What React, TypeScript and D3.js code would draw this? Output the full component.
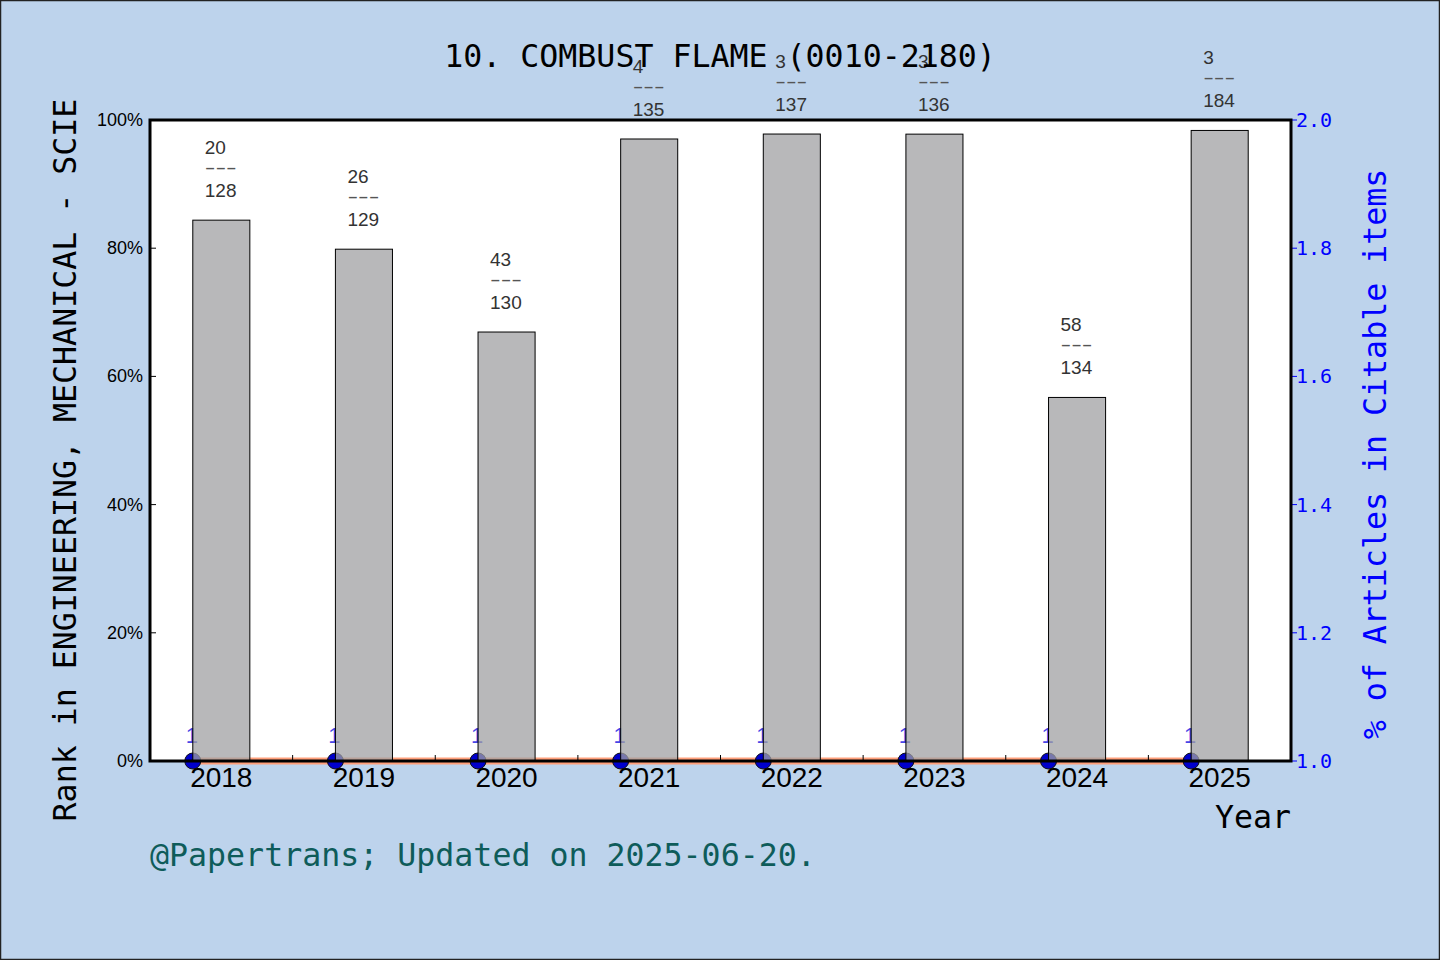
import { useEffect, useRef } from "react";
import * as d3 from "d3";

// chart data
const years = ["2018", "2019", "2020", "2021", "2022", "2023", "2024", "2025"];
const ranks = [20, 26, 43, 4, 3, 3, 58, 3];
const totals = [128, 129, 130, 135, 137, 136, 134, 184];
const citable = [1, 1, 1, 1, 1, 1, 1, 1];
const leftTicks = [0, 0.2, 0.4, 0.6, 0.8, 1.0];
const rightTicks = [1.0, 1.2, 1.4, 1.6, 1.8, 2.0];

const W = 1440;
const H = 960;
const M = { left: 150, right: 1291, top: 120, bottom: 761 };
const MONO = "'DejaVu Sans Mono', monospace";
const SANS = "'Liberation Sans', Arial, sans-serif";
const BIG = 31.6;

export default function App() {
  const svgRef = useRef<SVGSVGElement>(null);

  useEffect(() => {
    document.body.style.margin = "0";
    const svg = svgRef.current;
    if (!svg) return;
    const sel = d3.select(svg);
    sel.selectAll("*").remove();

    const x = d3.scaleBand<string>().domain(years).range([M.left, M.right]).padding(0);
    const step = x.step();
    const yL = d3.scaleLinear().domain([0, 1]).range([M.bottom, M.top]);
    const yR = d3.scaleLinear().domain([1, 2]).range([M.bottom, M.top]);

    const rows = years.map((yr, i) => ({
      year: yr,
      rank: ranks[i],
      total: totals[i],
      pct: 1 - ranks[i] / totals[i],
      cit: citable[i],
    }));
    type Row = (typeof rows)[number];
    const px = (d: Row) => (x(d.year) ?? 0) + step * 0.3;

    // background
    sel.append("rect").attr("x", 0.5).attr("y", 0.5).attr("width", W - 1).attr("height", H - 1)
      .attr("fill", "#bdd3ec").attr("stroke", "#222").attr("stroke-width", 1.5);
    sel.append("rect").attr("x", M.left).attr("y", M.top)
      .attr("width", M.right - M.left).attr("height", M.bottom - M.top).attr("fill", "#fff");

    // citable line + markers (under the bars)
    const line = d3.line<Row>().x(px).y((d) => yR(d.cit));
    sel.append("path").datum(rows).attr("d", line).attr("fill", "none")
      .attr("stroke", "#ff9f7a").attr("stroke-width", 7);
    sel.selectAll("circle.pt").data(rows).join("circle").attr("class", "pt")
      .attr("cx", px).attr("cy", (d) => yR(d.cit)).attr("r", 8)
      .attr("fill", "#0000cc").attr("stroke", "#111").attr("stroke-width", 1);
    sel.selectAll("text.cit").data(rows).join("text").attr("class", "cit")
      .attr("x", (d) => px(d) - 1).attr("y", (d) => yR(d.cit) - 18).attr("text-anchor", "middle")
      .attr("font-family", SANS).attr("font-size", 22).attr("font-weight", 300).attr("fill", "#4646e6")
      .text((d) => String(d.cit));

    // bars
    sel.selectAll("rect.bar").data(rows).join("rect").attr("class", "bar")
      .attr("x", px).attr("y", (d) => yL(d.pct)).attr("width", step * 0.4)
      .attr("height", (d) => M.bottom - yL(d.pct))
      .attr("fill", "#a0a0a3").attr("fill-opacity", 0.75)
      .attr("stroke", "#000").attr("stroke-width", 1);

    // rank labels
    const lx = (d: Row) => px(d) + 12;
    sel.selectAll("text.rk").data(rows).join("text").attr("class", "rk")
      .attr("x", lx).attr("y", (d) => yL(d.pct) - 66)
      .attr("font-family", SANS).attr("font-size", 19).attr("fill", "#333").text((d) => String(d.rank));
    sel.selectAll("text.dash").data(rows).join("text").attr("class", "dash")
      .attr("x", lx).attr("y", (d) => yL(d.pct) - 46)
      .attr("font-family", SANS).attr("font-size", 19).attr("fill", "#555")
      .attr("textLength", 32).attr("lengthAdjust", "spacingAndGlyphs").text("---");
    sel.selectAll("text.tot").data(rows).join("text").attr("class", "tot")
      .attr("x", lx).attr("y", (d) => yL(d.pct) - 23)
      .attr("font-family", SANS).attr("font-size", 19).attr("fill", "#333").text((d) => String(d.total));

    // ticks: left inward, bottom minor at band edges
    leftTicks.forEach((t) => {
      sel.append("line").attr("x1", M.left).attr("x2", M.left + 6).attr("y1", yL(t)).attr("y2", yL(t))
        .attr("stroke", "#000").attr("stroke-width", 1);
      sel.append("text").attr("x", M.left - 7).attr("y", yL(t) + 6).attr("text-anchor", "end")
        .attr("font-family", SANS).attr("font-size", 18).attr("fill", "#000")
        .text(`${Math.round(t * 100)}%`);
    });
    years.slice(1).forEach((yr) => {
      const bx = x(yr) ?? 0;
      sel.append("line").attr("x1", bx).attr("x2", bx).attr("y1", M.bottom).attr("y2", M.bottom - 6)
        .attr("stroke", "#000").attr("stroke-width", 1);
    });
    rightTicks.forEach((t) => {
      sel.append("line").attr("x1", M.right).attr("x2", M.right + 6).attr("y1", yR(t)).attr("y2", yR(t))
        .attr("stroke", "#0000ff").attr("stroke-width", 1);
      sel.append("text").attr("x", M.right + 5).attr("y", yR(t) + 7)
        .attr("font-family", MONO).attr("font-size", 20).attr("fill", "#0000ff")
        .text(t.toFixed(1));
    });

    // frame
    sel.append("rect").attr("x", M.left).attr("y", M.top)
      .attr("width", M.right - M.left).attr("height", M.bottom - M.top)
      .attr("fill", "none").attr("stroke", "#000").attr("stroke-width", 3);

    // year labels
    sel.selectAll("text.yr").data(rows).join("text").attr("class", "yr")
      .attr("x", (d) => (x(d.year) ?? 0) + step * 0.5).attr("y", 787).attr("text-anchor", "middle")
      .attr("font-family", SANS).attr("font-size", 28).attr("fill", "#000").text((d) => d.year);

    // titles
    sel.append("text").attr("x", 720).attr("y", 67).attr("text-anchor", "middle")
      .attr("font-family", MONO).attr("font-size", BIG).attr("fill", "#000")
      .text("10. COMBUST FLAME (0010-2180)");
    sel.append("text").attr("transform", "translate(76,460) rotate(-90)").attr("text-anchor", "middle")
      .attr("font-family", MONO).attr("font-size", BIG).attr("fill", "#000")
      .text("Rank in ENGINEERING, MECHANICAL - SCIE");
    sel.append("text").attr("transform", "translate(1386,454) rotate(-90)").attr("text-anchor", "middle")
      .attr("font-family", MONO).attr("font-size", BIG).attr("fill", "#0000ff")
      .text("% of Articles in Citable items");
    sel.append("text").attr("x", M.right).attr("y", 828).attr("text-anchor", "end")
      .attr("font-family", MONO).attr("font-size", BIG).attr("fill", "#000").text("Year");
    sel.append("text").attr("x", M.left).attr("y", 866)
      .attr("font-family", MONO).attr("font-size", BIG).attr("fill", "#0e5c5a")
      .text("@Papertrans; Updated on 2025-06-20.");
  }, []);

  return (
    <svg ref={svgRef} width={W} height={H}
      style={{ position: "absolute", left: 0, top: 0, display: "block" }} />
  );
}
